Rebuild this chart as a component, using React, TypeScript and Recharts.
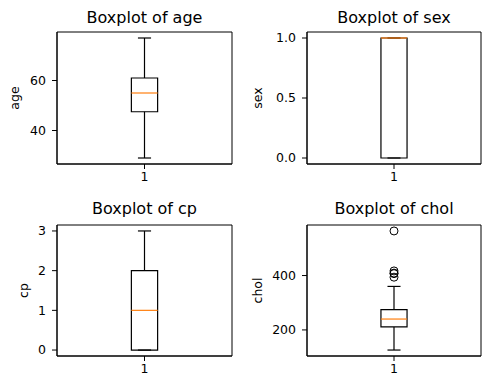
import { ComposedChart, ReferenceArea, ReferenceLine, Scatter, XAxis, YAxis } from 'recharts'

// five-number summaries (heart dataset columns)
const variables = ['age', 'sex', 'cp', 'chol']
const q1Values = [47.5, 0, 0, 211]
const medianValues = [55, 1, 1, 240]
const q3Values = [61, 1, 2, 274.5]
const whiskerLow = [29, 0, 0, 126]
const whiskerHigh = [77, 1, 3, 360]
const cholOutliers = [564, 417, 409, 407, 394]
const outlierValues: number[][] = [[], [], [], cholOutliers]
const yTicks = [[40, 60], [0, 0.5, 1], [0, 1, 2, 3], [200, 400]]
const xTicks = [1]

const FONT = 'DejaVu Sans'
const BOX_HALF = 0.075
const CAP_HALF = 0.0375

// panel placement: [left, top, yAxisWidth, marginTop, marginRight, xAxisHeight]
const panels = [
  { left: 0, top: 0, yw: 57, mt: 32, mr: 13, xh: 31 },
  { left: 245, top: 0, yw: 62, mt: 32, mr: 9, xh: 31 },
  { left: 0, top: 195, yw: 57, mt: 30, mr: 13, xh: 34 },
  { left: 245, top: 195, yw: 62, mt: 30, mr: 9, xh: 34 },
]

const titleSpots = [
  { x: 144.5, y: 23 },
  { x: 394, y: 23 },
  { x: 144.5, y: 213.5 },
  { x: 394, y: 213.5 },
]
const ylabelSpots = [
  { x: 19, y: 98 },
  { x: 262, y: 98 },
  { x: 27.5, y: 290.5 },
  { x: 261.5, y: 290.5 },
]

function Hollow(props: any) {
  const { cx, cy } = props
  if (cx == null || cy == null) return null
  return <circle cx={cx} cy={cy} r={4} fill="none" stroke="#000" strokeWidth={1} />
}

function BoxPanel({ i }: { i: number }) {
  const p = panels[i]
  const outs = outlierValues[i]
  const lo = Math.min(whiskerLow[i], ...outs)
  const hi = Math.max(whiskerHigh[i], ...outs)
  const pad = (hi - lo) * 0.05
  const domain = [lo - pad, hi + pad]
  const pts = outs.map((v) => ({ x: 1, y: v }))
  const fmt = i === 1 ? (v: number) => v.toFixed(1) : (v: number) => `${v}`
  const tick = { fill: '#000', fontSize: 12.5, fontFamily: FONT }

  return (
    <div style={{ position: 'absolute', left: p.left, top: p.top }}>
      <ComposedChart
        width={245}
        height={195}
        margin={{ top: p.mt, right: p.mr, bottom: 0, left: 0 }}
      >
        <XAxis
          type="number"
          dataKey="x"
          domain={[0.5, 1.5]}
          ticks={xTicks}
          allowDataOverflow
          height={p.xh}
          stroke="#000"
          tick={tick}
          tickSize={5}
          tickMargin={3}
        />
        <YAxis
          type="number"
          dataKey="y"
          domain={domain}
          ticks={yTicks[i]}
          allowDataOverflow
          width={p.yw}
          stroke="#000"
          tick={tick}
          tickSize={5}
          tickMargin={6}
          tickFormatter={fmt}
        />
        <ReferenceArea
          x1={0.5}
          x2={1.5}
          y1={domain[0]}
          y2={domain[1]}
          fill="none"
          stroke="#000"
          strokeWidth={1}
          ifOverflow="visible"
        />
        <ReferenceArea
          x1={1 - BOX_HALF}
          x2={1 + BOX_HALF}
          y1={q1Values[i]}
          y2={q3Values[i]}
          fill="none"
          fillOpacity={0}
          stroke="#000"
          strokeOpacity={1}
          strokeWidth={1.2}
          ifOverflow="visible"
        />
        <ReferenceLine
          segment={[{ x: 1, y: q3Values[i] }, { x: 1, y: whiskerHigh[i] }]}
          stroke="#000"
          strokeWidth={1.2}
          ifOverflow="visible"
        />
        <ReferenceLine
          segment={[{ x: 1, y: q1Values[i] }, { x: 1, y: whiskerLow[i] }]}
          stroke="#000"
          strokeWidth={1.2}
          ifOverflow="visible"
        />
        <ReferenceLine
          segment={[{ x: 1 - CAP_HALF, y: whiskerHigh[i] }, { x: 1 + CAP_HALF, y: whiskerHigh[i] }]}
          stroke="#000"
          strokeWidth={1.2}
          ifOverflow="visible"
        />
        <ReferenceLine
          segment={[{ x: 1 - CAP_HALF, y: whiskerLow[i] }, { x: 1 + CAP_HALF, y: whiskerLow[i] }]}
          stroke="#000"
          strokeWidth={1.2}
          ifOverflow="visible"
        />
        <ReferenceLine
          segment={[{ x: 1 - BOX_HALF, y: medianValues[i] }, { x: 1 + BOX_HALF, y: medianValues[i] }]}
          stroke="#ff7f0e"
          strokeWidth={1.2}
          ifOverflow="visible"
        />
        <Scatter data={pts} dataKey="y" shape={<Hollow />} isAnimationActive={false} />
      </ComposedChart>
    </div>
  )
}

export default function App() {
  return (
    <div
      style={{
        position: 'absolute',
        left: 0,
        top: 0,
        width: 490,
        height: 390,
        background: '#fff',
        fontFamily: FONT,
      }}
    >
      {variables.map((_, i) => (
        <BoxPanel key={i} i={i} />
      ))}
      <svg
        width={490}
        height={390}
        style={{ position: 'absolute', left: 0, top: 0, pointerEvents: 'none' }}
      >
        {variables.map((v, i) => (
          <text
            key={`t-${v}`}
            x={titleSpots[i].x}
            y={titleSpots[i].y}
            textAnchor="middle"
            fontFamily={FONT}
            fontSize={16}
            fill="#000"
          >
            {`Boxplot of ${v}`}
          </text>
        ))}
        {variables.map((v, i) => (
          <text
            key={`y-${v}`}
            x={ylabelSpots[i].x}
            y={ylabelSpots[i].y}
            transform={`rotate(-90 ${ylabelSpots[i].x} ${ylabelSpots[i].y})`}
            textAnchor="middle"
            fontFamily={FONT}
            fontSize={12.5}
            fill="#000"
          >
            {v}
          </text>
        ))}
      </svg>
    </div>
  )
}
